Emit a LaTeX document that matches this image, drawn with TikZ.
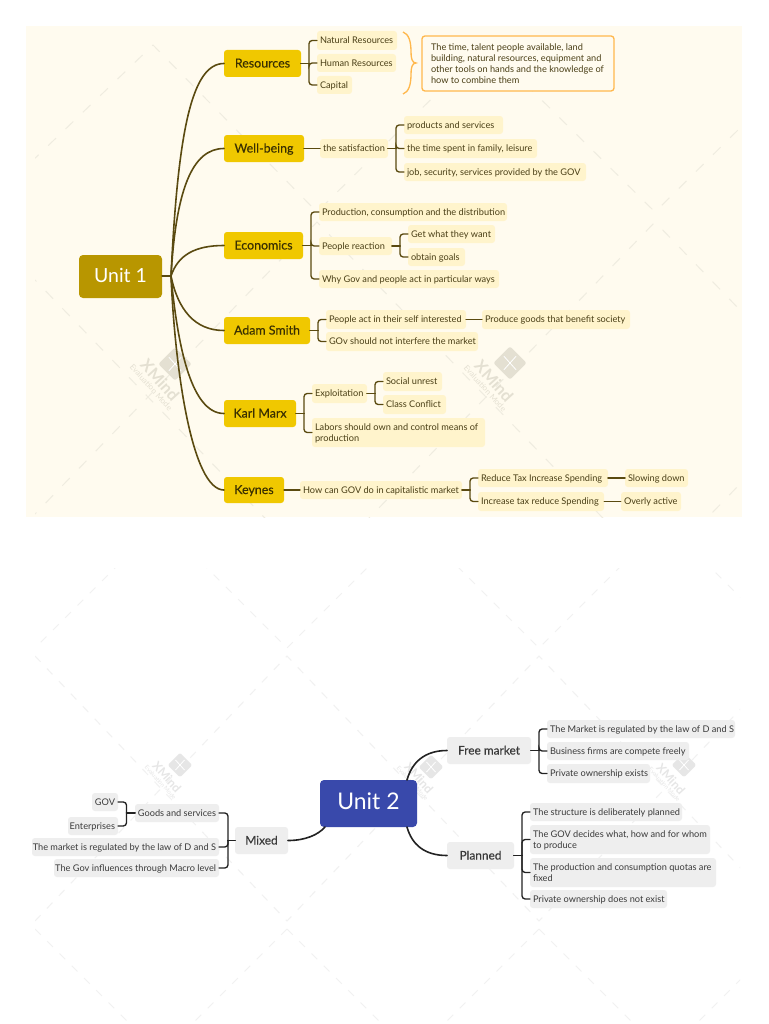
\documentclass[tikz,border=0pt]{standalone}
\usepackage{fontspec}
\setmainfont{Lato}
\newfontfamily\medfont[FakeBold=0.25]{Lato}
\usetikzlibrary{calc}
\definecolor{panelY}{HTML}{FFFBEF}
\definecolor{rootY}{HTML}{B89600}
\definecolor{branchY}{HTML}{F0C800}
\definecolor{leafY}{HTML}{FFF4CC}
\definecolor{lineY}{HTML}{5A4A10}
\definecolor{textY}{HTML}{4A3F16}
\definecolor{textB}{HTML}{3A3000}
\definecolor{orangeB}{HTML}{FFB84D}
\definecolor{rootB}{HTML}{3949AB}
\definecolor{leafG}{HTML}{EEEEEE}
\definecolor{lineG}{HTML}{222222}
\definecolor{textG}{HTML}{3A3A3A}
\definecolor{wmY}{HTML}{EFECE0}
\definecolor{wmG}{HTML}{F1F1F1}
\definecolor{logoY}{HTML}{E4E0D2}
\definecolor{logoG}{HTML}{E6E6E6}
\tikzset{
  boxbase/.style={rectangle,rounded corners=2.2pt,inner sep=0pt,outer sep=0pt},
  rootbox/.style={boxbase,rounded corners=3pt,text=white,font=\fontsize{14.6}{18}\selectfont},
  branchbox/.style={boxbase,fill=branchY,text=textB,font=\medfont\fontsize{9.3}{11}\selectfont},
  leafbox/.style={boxbase,fill=leafY,text=textY,font=\fontsize{6.9}{8.25}\selectfont},
  grayb/.style={boxbase,fill=leafG,text=textG,font=\medfont\fontsize{8.9}{11}\selectfont},
  grayl/.style={boxbase,fill=leafG,text=textG,font=\fontsize{6.9}{8.25}\selectfont},
  conn/.style={line width=1pt,color=lineY,line cap=round},
  conng/.style={line width=1pt,color=lineG,line cap=round},
  maincurve/.style={conn,line width=1.2pt},
  wm top/.style={line width=0.75pt,color=wmY,dash pattern=on 8pt off 10pt},
  wm low/.style={line width=0.75pt,color=wmG,dash pattern=on 6pt off 7pt},
}
% style, align (l/c/r), name, x1, y1, x2, y2, text
\newcommand\bx[8]{%
  \pgfmathsetmacro\bxw{(#6-(#4))*0.75}%
  \pgfmathsetmacro\bxh{(#7-(#5))*0.75}%
  \pgfmathsetmacro\bxcx{(#4+#6)/2}%
  \pgfmathsetmacro\bxcy{(#5+#7)/2}%
  \pgfmathsetmacro\bxt{(#6-(#4)-6)*0.75}%
  \node[#1,minimum width=\bxw pt,minimum height=\bxh pt] (#3) at (\bxcx,\bxcy)
    {\makebox[\bxt pt][#2]{\raisebox{-0.8pt}[\height][\depth]{\begin{tabular}{@{}#2@{}}#8\end{tabular}}}};%
}
% parent, parent anchor, child, child anchor, x of the trunk, style
\newcommand\trunk[6]{%
  \coordinate (tv) at (#5,0);
  \draw[#6] (#1.#2) -- (#1.#2 -| tv);
  \draw[#6,rounded corners=2.4pt] (#1.#2 -| tv) -- (#3.#4 -| tv) -- (#3.#4);
}
% logo x, logo y, factor, text x, text y, prefix, colour
\newcommand\wmark[7]{%
  \pgfmathsetmacro\wmbig{#3*9}%
  \pgfmathsetmacro\wmsmall{#3*4.4}%
  \node[rectangle,rotate=45,fill=#7,rounded corners=1.5pt,minimum size=#3*13pt,inner sep=0pt] (#6a) at (#1,#2) {};
  \draw[white,line width=0.6pt] ($(#6a)+(-#3*4.5,-#3*5)$) -- ($(#6a)+(#3*4.5,#3*5)$) ($(#6a)+(#3*4.5,-#3*5)$) -- ($(#6a)+(-#3*4.5,#3*5)$);
  \node[rotate=-48,text=#7,font=\bfseries\fontsize{\wmbig}{10}\selectfont,inner sep=0pt] (#6b) at (#4,#5) {XMind};
  \node[rotate=-48,text=#7,font=\fontsize{\wmsmall}{5}\selectfont,inner sep=0pt] (#6c) at (#4-#3*6.5,#5+#3*5.5) {Evaluation Mode};
}
\begin{document}
\begin{tikzpicture}[x=0.75pt,y=-0.75pt]
\useasboundingbox (0,0) rectangle (768,1024);
\fill[white] (0,0) rectangle (768,1024);
\fill[panelY] (26,26) rectangle (742,517);

% ---- watermark of the upper panel
\begin{scope}
\clip (35,26) rectangle (742,517);
\draw[wm top] (-21,212) -- (153,45) -- (317,212) -- (486,45) -- (655,212) -- (824,45);
\draw[wm top] (-21,572) -- (317,222) -- (655,572) -- (993,222);
\draw[wm top] (-21,222) -- (317,572) -- (655,222) -- (993,572);
\end{scope}
\wmark{175}{364}{1.35}{160}{380}{wa}{logoY}
\wmark{510}{363}{1.35}{494}{381}{wb}{logoY}

% ---- watermark of the lower panel
\begin{scope}
\clip (35,568) rectangle (740,1024);
\draw[wm low] (-45,568) -- (35,648) -- (117,566) -- (205,566) -- (287,648) -- (369,566);
\draw[wm low] (457,566) -- (539,648) -- (621,566) -- (709,566) -- (791,648);
\draw[wm low] (35,656) -- (287,921) -- (539,656) -- (791,921);
\draw[wm low] (35,921) -- (287,656) -- (539,921) -- (791,656);
\draw[wm low] (35,929) -- (130,1024) (287,929) -- (192,1024) (287,929) -- (382,1024);
\draw[wm low] (539,929) -- (444,1024) (539,929) -- (634,1024) (791,929) -- (696,1024);
\end{scope}
\wmark{180}{765}{1}{167}{777}{wc}{logoG}
\wmark{431}{767}{1}{419}{778}{wd}{logoG}
\wmark{684}{765}{1}{671}{779}{we}{logoG}

% ======== Unit 1
\bx{rootbox,fill=rootY}{c}{u1}{79}{255}{162}{298}{Unit 1}
\coordinate (hub) at (171,276);
\bx{branchbox}{c}{res}{224}{50}{301}{77}{Resources}
\bx{branchbox}{c}{well}{224}{135}{304}{162}{Well-being}
\bx{branchbox}{c}{eco}{224}{232}{303}{259}{Economics}
\bx{branchbox}{c}{adam}{224}{317}{310}{344}{Adam Smith}
\bx{branchbox}{c}{karl}{224}{400}{296}{427}{Karl Marx}
\bx{branchbox}{c}{key}{224}{477}{284}{503}{Keynes}

\draw[conn] (u1.east |- hub) -- (hub);
\draw[maincurve] (hub) .. controls (178,130) and (192,63.5) .. (res.west);
\draw[maincurve] (hub) .. controls (176,190) and (192,148.5) .. (well.west);
\draw[maincurve] (hub) .. controls (178,255) and (195,245.5) .. (eco.west);
\draw[maincurve] (hub) .. controls (178,310) and (195,330.5) .. (adam.west);
\draw[maincurve] (hub) .. controls (178,350) and (192,413.5) .. (karl.west);
\draw[maincurve] (hub) .. controls (175,370) and (192,490) .. (key.west);

% Resources
\bx{leafbox}{l}{nat}{317}{31}{397}{50}{Natural Resources}
\bx{leafbox}{l}{hum}{317}{54}{396}{72}{Human Resources}
\bx{leafbox}{l}{cap}{317}{76}{352}{94}{Capital}
\trunk{res}{east}{nat}{west}{309}{conn}
\trunk{res}{east}{hum}{west}{309}{conn}
\trunk{res}{east}{cap}{west}{309}{conn}
\draw[orangeB,line width=1pt] (403,32) .. controls (409,34) and (411,42) .. (411,52) .. controls (411,58) and (412,63) .. (416,63) .. controls (412,63) and (411,68) .. (411,74) .. controls (411,84) and (409,92) .. (403,94);
\bx{boxbase,fill=panelY,draw=orangeB,line width=1pt,text=textY,font=\fontsize{6.9}{8.25}\selectfont}{l}{note}{422}{36}{614}{91}{\hspace*{4.5pt}The time, talent people available, land\\\hspace*{4.5pt}building, natural resources, equipment and\\\hspace*{4.5pt}other tools on hands and the knowledge of\\\hspace*{4.5pt}how to combine them}

% Well-being
\bx{leafbox}{l}{sat}{320}{139}{388}{158}{the satisfaction}
\draw[conn,line width=1.3pt] (well.east) -- (sat.west);
\bx{leafbox}{l}{prod}{404}{116}{503}{134}{products and services}
\bx{leafbox}{l}{time}{404}{139}{537}{158}{the time spent in family, leisure}
\bx{leafbox}{l}{job}{404}{163}{586}{181}{job, security, services provided by the GOV}
\trunk{sat}{east}{prod}{west}{396}{conn}
\trunk{sat}{east}{time}{west}{396}{conn}
\trunk{sat}{east}{job}{west}{396}{conn}

% Economics
\bx{leafbox}{l}{pcd}{319}{203}{507}{221}{Production, consumption and the distribution}
\bx{leafbox}{l}{pr}{319}{237}{392}{255}{People reaction}
\bx{leafbox}{l}{why}{319}{270}{499}{288}{Why Gov and people act in particular ways}
\trunk{eco}{east}{pcd}{west}{311}{conn}
\trunk{eco}{east}{pr}{west}{311}{conn}
\trunk{eco}{east}{why}{west}{311}{conn}
\bx{leafbox}{l}{get}{408}{225}{495}{243}{Get what they want}
\bx{leafbox}{l}{obt}{408}{248}{465}{266}{obtain goals}
\trunk{pr}{east}{get}{west}{400}{conn}
\trunk{pr}{east}{obt}{west}{400}{conn}

% Adam Smith
\bx{leafbox}{l}{act}{326}{310}{466}{329}{People act in their self interested}
\bx{leafbox}{l}{gov}{326}{332}{478}{351}{GOv should not interfere the market}
\trunk{adam}{east}{act}{west}{318}{conn}
\trunk{adam}{east}{gov}{west}{318}{conn}
\bx{leafbox}{l}{goods}{482}{310}{630}{329}{Produce goods that benefit society}
\draw[conn] (act.east) -- (goods.west);

% Karl Marx
\bx{leafbox}{l}{expl}{312}{384}{367}{403}{Exploitation}
\bx{leafbox}{l}{lab}{312}{418}{485}{447}{Labors should own and control means of\\production}
\trunk{karl}{east}{expl}{west}{304}{conn}
\trunk{karl}{east}{lab}{west}{304}{conn}
\bx{leafbox}{l}{soc}{383}{372}{442}{391}{Social unrest}
\bx{leafbox}{l}{cla}{383}{395}{446}{414}{Class Conflict}
\trunk{expl}{east}{soc}{west}{375}{conn}
\trunk{expl}{east}{cla}{west}{375}{conn}

% Keynes
\bx{leafbox}{l}{how}{300}{481}{462}{499}{How can GOV do in capitalistic market}
\draw[conn] (key.east) -- (how.west);
\bx{leafbox}{l}{red}{478}{469}{608}{487}{Reduce Tax Increase Spending}
\bx{leafbox}{l}{inc}{478}{492}{604}{511}{Increase tax reduce Spending}
\trunk{how}{east}{red}{west}{470}{conn}
\trunk{how}{east}{inc}{west}{470}{conn}
\bx{leafbox}{l}{slow}{625}{469}{688}{487}{Slowing down}
\bx{leafbox}{l}{over}{621}{492}{681}{511}{Overly active}
\draw[conn,line width=1.3pt] (red.east) -- (slow.west);
\draw[conn,line width=0.7pt] (inc.east) -- (over.west);

% ======== Unit 2
\bx{rootbox,fill=rootB,font=\fontsize{17.2}{20}\selectfont}{c}{u2}{320}{780}{417}{827}{Unit 2}
\bx{grayb}{c}{free}{447}{737}{531}{764}{Free market}
\bx{grayb}{c}{plan}{447}{842}{514}{869}{Planned}
\bx{grayb}{c}{mix}{235}{827}{288}{854}{Mixed}
\draw[conng,line width=1.2pt] ($(u2.north east)+(-10,0)$) .. controls (412,762) and (425,750.5) .. (free.west);
\draw[conng,line width=1.2pt] ($(u2.south east)+(-10,0)$) .. controls (412,845) and (425,855.5) .. (plan.west);
\draw[conng,line width=1.2pt] ($(u2.south west)+(5,0)$) .. controls (318,835) and (305,840.5) .. (mix.east);

\bx{grayl}{l}{fm1}{547}{720}{735}{738}{The Market is regulated by the law of D and S}
\bx{grayl}{l}{fm2}{547}{742}{689}{760}{Business firms are compete freely}
\bx{grayl}{l}{fm3}{547}{764}{650}{783}{Private ownership exists}
\trunk{free}{east}{fm1}{west}{539}{conng}
\trunk{free}{east}{fm2}{west}{539}{conng}
\trunk{free}{east}{fm3}{west}{539}{conng}

\bx{grayl}{l}{pl1}{530}{803}{682}{821}{The structure is deliberately planned}
\bx{grayl}{l}{pl2}{530}{825}{710}{854}{The GOV decides what, how and for whom\\to produce}
\bx{grayl}{l}{pl3}{530}{858}{716}{887}{The production and consumption quotas are\\fixed}
\bx{grayl}{l}{pl4}{530}{890}{667}{908}{Private ownership does not exist}
\trunk{plan}{east}{pl1}{west}{522}{conng}
\trunk{plan}{east}{pl2}{west}{522}{conng}
\trunk{plan}{east}{pl3}{west}{522}{conng}
\trunk{plan}{east}{pl4}{west}{522}{conng}

\bx{grayl}{r}{gs}{135}{804}{219}{822}{Goods and services}
\bx{grayl}{r}{law}{32}{838}{219}{856}{The market is regulated by the law of D and S}
\bx{grayl}{r}{mac}{54}{859}{219}{877}{The Gov influences through Macro level}
\trunk{mix}{west}{gs}{east}{228}{conng}
\trunk{mix}{west}{law}{east}{228}{conng}
\trunk{mix}{west}{mac}{east}{228}{conng}
\bx{grayl}{r}{gv}{92}{793}{118}{811}{GOV}
\bx{grayl}{r}{ent}{68}{817}{118}{835}{Enterprises}
\trunk{gs}{west}{gv}{east}{126.5}{conng}
\trunk{gs}{west}{ent}{east}{126.5}{conng}
\end{tikzpicture}
\end{document}
